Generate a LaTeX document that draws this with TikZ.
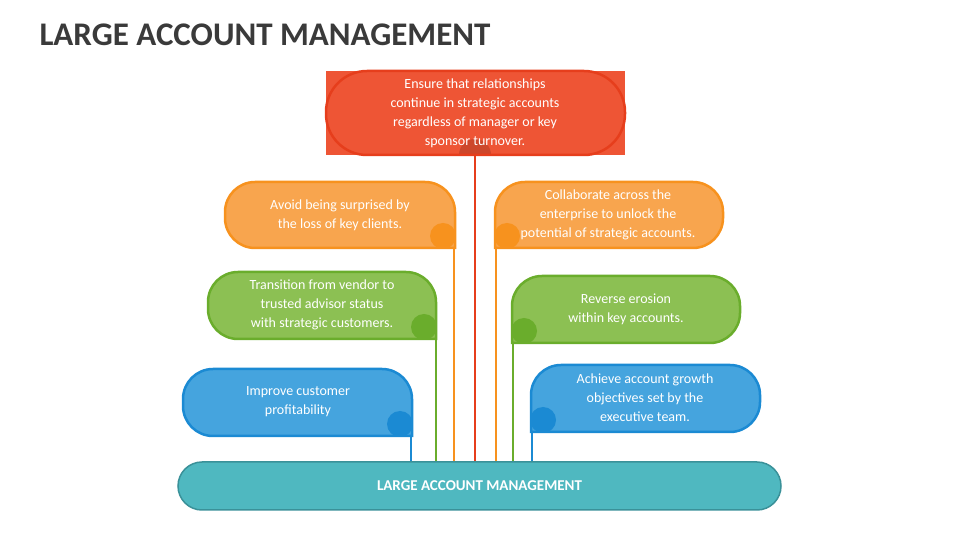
\documentclass[tikz,border=0pt]{standalone}
\usepackage{fontspec}
\setmainfont{Carlito}
\definecolor{oF}{HTML}{F8A54E}\definecolor{oB}{HTML}{F7921E}
\definecolor{gF}{HTML}{8CC053}\definecolor{gB}{HTML}{6AAD2C}
\definecolor{bF}{HTML}{45A4DE}\definecolor{bB}{HTML}{1B8AD3}
\definecolor{rF}{HTML}{EE5535}\definecolor{rB}{HTML}{E63E1C}
\definecolor{tF}{HTML}{4FB8C0}\definecolor{tB}{HTML}{3A9199}
\definecolor{ttl}{HTML}{3A3A3A}
\newcommand\lpath[4]{(#3,#2) -- ({#1+30},#2) arc[start angle=270,end angle=180,radius=30] -- (#1,{#4-30}) arc[start angle=180,end angle=90,radius=30] -- ({#3-30},#4) arc[start angle=90,end angle=0,radius=30] -- cycle}
\newcommand\rpath[4]{(#1,#2) -- ({#3-30},#2) arc[start angle=270,end angle=360,radius=30] -- (#3,{#4-30}) arc[start angle=0,end angle=90,radius=30] -- ({#1+30},#4) arc[start angle=90,end angle=180,radius=30] -- cycle}
\newcommand\lbox[6]{%
 \fill[#5] \lpath{#1}{#2}{#3}{#4};
 \begin{scope}\clip \lpath{#1}{#2}{#3}{#4}; \fill[#6] ({#3-12},{#2+12}) circle (13); \end{scope}
 \draw[#6,line width=2.5pt] \lpath{#1}{#2}{#3}{#4};}
\newcommand\rbox[6]{%
 \fill[#5] \rpath{#1}{#2}{#3}{#4};
 \begin{scope}\clip \rpath{#1}{#2}{#3}{#4}; \fill[#6] ({#1+12},{#2+12}) circle (13); \end{scope}
 \draw[#6,line width=2.5pt] \rpath{#1}{#2}{#3}{#4};}
\tikzset{txt/.style={text=white,align=center,font=\fontsize{14}{19}\selectfont},
 conn/.style={line width=1.6pt}}
\begin{document}
\begin{tikzpicture}[x=1pt,y=1pt]
\useasboundingbox (0,0) rectangle (960,540);
\node[anchor=west,text=ttl,font=\fontsize{33}{36}\selectfont\bfseries] (title) at (36,505) {LARGE ACCOUNT MANAGEMENT};
% bar
\node[draw=tB,fill=tF,line width=1.5pt,rounded corners=24,minimum width=603,minimum height=48,text=white,font=\fontsize{15}{18}\selectfont\bfseries,inner sep=0] (bar) at (479.5,54) {LARGE ACCOUNT MANAGEMENT};
% connectors
\coordinate (c1) at (454,292); \coordinate (c2) at (436,201); \coordinate (c3) at (411,104);
\coordinate (c4) at (496,292); \coordinate (c5) at (513,197); \coordinate (c6) at (532,108);
\coordinate (c0) at (475,385);
\draw[conn,oB] (c1) -- (c1 |- bar.north); \draw[conn,gB] (c2) -- (c2 |- bar.north);
\draw[conn,bB] (c3) -- (c3 |- bar.north); \draw[conn,oB] (c4) -- (c4 |- bar.north);
\draw[conn,gB] (c5) -- (c5 |- bar.north); \draw[conn,bB] (c6) -- (c6 |- bar.north);
\draw[conn,rB] (c0) -- (c0 |- bar.north);
% boxes
\lbox{225}{292}{455}{358}{oF}{oB}
\lbox{208}{201}{436}{268}{gF}{gB}
\lbox{183}{104}{412}{171}{bF}{bB}
\rbox{495}{292}{723}{358}{oF}{oB}
\rbox{512}{197}{740}{264}{gF}{gB}
\rbox{531}{108}{760}{175}{bF}{bB}
% top
\fill[rF] (326,385) rectangle (625,469);
\begin{scope}\clip[rounded corners=40] (326,385) rectangle (625,469); \fill[rF!85!black!90!rB] (475,385) circle (16);\end{scope}
\draw[rB,line width=2.5pt,rounded corners=41] (326,385) rectangle (625,469);
\node[txt] (t0) at (475,427) {Ensure that relationships\\continue in strategic accounts\\regardless of manager or key\\sponsor turnover.};
\node[txt] (t1) at (340,325) {Avoid being surprised by\\the loss of key clients.};
\node[txt] (t2) at (322,235) {Transition from vendor to\\trusted advisor status\\with strategic customers.};
\node[txt] (t3) at (298,138) {Improve customer\\profitability};
\node[txt] (t4) at (608,325) {Collaborate across the\\enterprise to unlock the\\potential of strategic accounts.};
\node[txt] (t5) at (626,231) {Reverse erosion\\within key accounts.};
\node[txt] (t6) at (645,142) {Achieve account growth\\objectives set by the\\executive team.};
\end{tikzpicture}
\end{document}
